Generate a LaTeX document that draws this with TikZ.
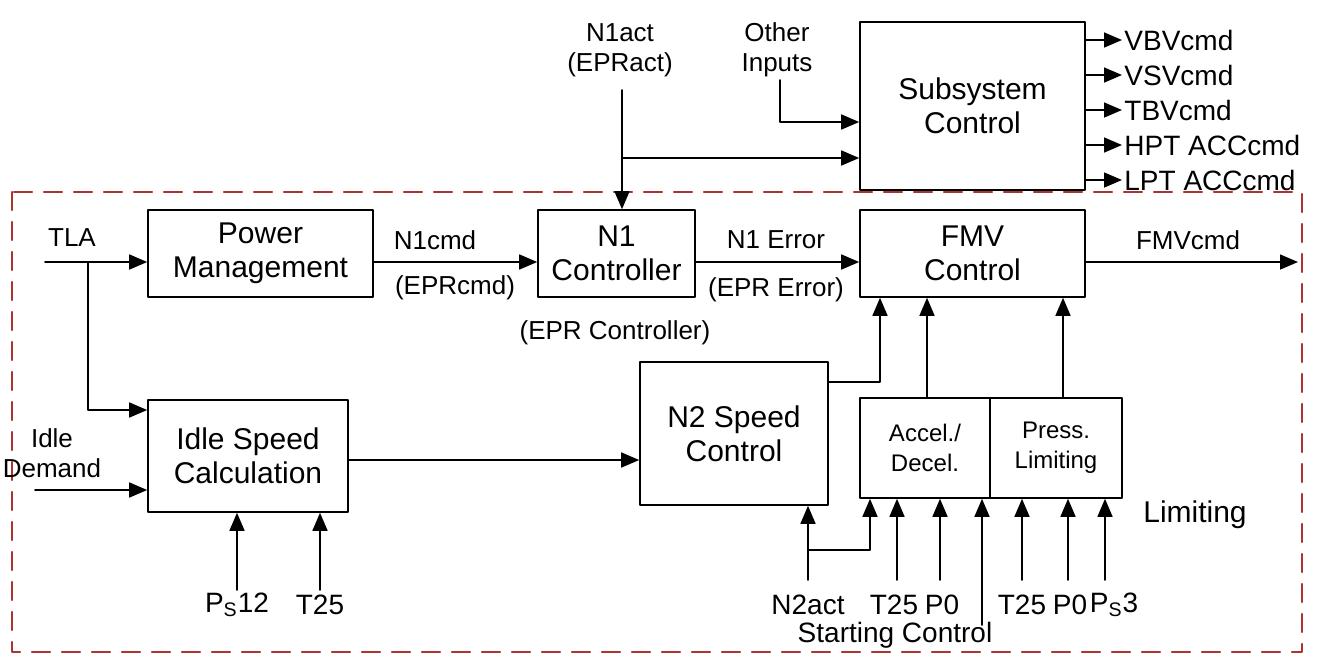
\documentclass[tikz,border=0pt]{standalone}
\usepackage{fontspec}
\setmainfont{Liberation Sans}
\usetikzlibrary{arrows.meta}

\tikzset{
  blk/.style={draw, thick, align=center, inner sep=0pt, font=\fontsize{15}{17}\selectfont},
  lbl/.style={align=center, inner sep=1pt, font=\fontsize{13}{15}\selectfont},
  sig/.style={thick, -{Triangle[length=9pt,width=7.5pt]}},
  ln/.style={thick}
}

\begin{document}
\begin{tikzpicture}[x=0.5pt, y=-0.5pt, line cap=round, line join=round]
  \useasboundingbox (0,0) rectangle (1322,671);

  % --- BLOCURI ---
  \node[blk, minimum width=112.5pt, minimum height=43.5pt] (pm) at (260.5,253.5) {Power\\Management};
  \node[blk, minimum width=78.5pt, minimum height=43.5pt] (n1c) at (616.5,253.5) {N1\\Controller};
  \node[blk, minimum width=112.5pt, minimum height=43.5pt] (fmv) at (972.5,253.5) {FMV\\Control};
  \node[blk, minimum width=112.5pt, minimum height=84pt] (sub) at (972.5,106) {Subsystem\\Control};
  \node[blk, minimum width=100pt, minimum height=56pt] (idle) at (248,456) {Idle Speed\\Calculation};
  \node[blk, minimum width=94pt, minimum height=71.5pt] (n2) at (734,433.5) {N2 Speed\\Control};
  \node[blk, minimum width=65pt, minimum height=50pt, font=\fontsize{12}{15}\selectfont] (acc) at (925,448) {Accel./\\Decel.};
  \node[blk, minimum width=66pt, minimum height=50pt, font=\fontsize{12}{15}\selectfont] (prs) at (1056,448) {Press.\\Limiting};

  % --- CHENAR PUNCTAT ---
  \draw[very thick, red!60!black!80, dash pattern=on 9pt off 6pt] (12,192) rectangle (1302,652);

  % --- COORDONATE ---
  \coordinate (tla) at (45,262);
  \coordinate (tlab) at (88,262);
  \coordinate (idem) at (35,490);
  \coordinate (fmvo) at (1298,262);
  \coordinate (n1a) at (622,90);
  \coordinate (n1b) at (622,158);
  \coordinate (oth) at (780,80);

  % --- LEGATURI ---
  \draw[sig] (tla) -- (tla -| pm.west);
  \draw[sig] (tlab) |- (idle.west |- 0,410);
  \draw[sig] (idem) -- (idem -| idle.west);
  \draw[sig] (pm.east |- tla) -- (n1c.west |- tla);
  \draw[sig] (n1c.east |- tla) -- (fmv.west |- tla);
  \draw[sig] (fmv.east |- tla) -- (fmvo);
  \draw[sig] (n1a) -- (n1c.north -| n1a);
  \draw[sig] (n1b) -- (n1b -| sub.west);
  \draw[sig] (oth) |- (sub.west |- 0,122);
  \foreach \y/\t in {40/VBVcmd,75/VSVcmd,110/TBVcmd,145/HPT ACCcmd,180/LPT ACCcmd}{
    \coordinate (o\y) at (1122,\y);
    \draw[sig] (sub.east |- o\y) -- (o\y);
    \node[lbl, anchor=west, font=\fontsize{14}{16}\selectfont] at (o\y) {\t};
  }
  \draw[sig] (idle.east |- 0,460) -- (n2.west |- 0,460);
  \draw[sig] (n2.east |- 0,382) -| (fmv.south -| 880,0);
  \draw[sig] (acc.north -| 927,0) -- (fmv.south -| 927,0);
  \draw[sig] (prs.north -| 1063,0) -- (fmv.south -| 1063,0);

  % --- INTRARI DE JOS ---
  \foreach \x in {237,320}
    \draw[sig] (\x,590) -- (idle.south -| \x,0);
  \coordinate (n2a) at (808,580);
  \draw[sig] (n2a) -- (n2.south -| n2a);
  \draw[sig] (808,550) -| (acc.south -| 870,0);
  \foreach \x in {897,940,1022,1068,1105}
    \draw[sig] (\x,580) -- (acc.south -| \x,0);
  \draw[sig] (982,625) -- (acc.south -| 982,0);

  % --- ETICHETE ---
  \node[lbl] at (72,238) {TLA};
  \node[lbl] at (52,453) {Idle\\Demand};
  \node[lbl] at (435,240) {N1cmd};
  \node[lbl] at (455,288) {(EPRcmd)};
  \node[lbl] at (776,240) {N1 Error};
  \node[lbl] at (776,290) {(EPR Error)};
  \node[lbl] at (615,333) {(EPR Controller)};
  \node[lbl] at (1188,240) {FMVcmd};
  \node[lbl] at (620,50) {N1act\\(EPRact)};
  \node[lbl] at (777,50) {Other\\Inputs};
  \node[lbl, font=\fontsize{14}{16}\selectfont] at (237,605) {P$_\mathrm{S}$12};
  \node[lbl, font=\fontsize{14}{16}\selectfont] at (320,605) {T25};
  \node[lbl, font=\fontsize{14}{16}\selectfont] at (808,605) {N2act};
  \node[lbl, font=\fontsize{14}{16}\selectfont] at (894,605) {T25};
  \node[lbl, font=\fontsize{14}{16}\selectfont] at (942,605) {P0};
  \node[lbl, font=\fontsize{14}{16}\selectfont] at (1022,605) {T25};
  \node[lbl, font=\fontsize{14}{16}\selectfont] at (1070,605) {P0};
  \node[lbl, font=\fontsize{14}{16}\selectfont] at (1114,605) {P$_\mathrm{S}$3};
  \node[lbl, font=\fontsize{14}{16}\selectfont] at (895,635) {Starting Control};
  \node[lbl, font=\fontsize{15}{17}\selectfont] at (1195,515) {Limiting};
\end{tikzpicture}
\end{document}
